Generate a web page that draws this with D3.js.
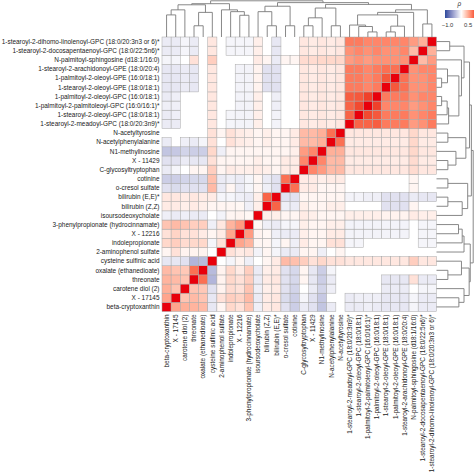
<!DOCTYPE html>
<html><head><meta charset="utf-8">
<script src="https://cdn.jsdelivr.net/npm/d3@7"></script>
<style>html,body{margin:0;padding:0;background:#fff;} svg{display:block;}</style>
</head><body>
<svg id="chart" width="474" height="474"></svg>
<script>
// Leaf order (left -> right on columns, bottom -> top on rows)
const labels = [
  "beta-cryptoxanthin", "X - 17145", "carotene diol (2)", "threonate", "oxalate (ethanedioate)",
  "cysteine sulfinic acid", "2-aminophenol sulfate", "indolepropionate", "X - 12216",
  "3-phenylpropionate (hydrocinnamate)", "isoursodeoxycholate", "bilirubin (Z,Z)", "bilirubin (E,E)*",
  "o-cresol sulfate", "cotinine", "C-glycosyltryptophan", "X - 11429", "N1-methylinosine",
  "N-acetylphenylalanine", "N-acetyltyrosine",
  "1-stearoyl-2-meadoyl-GPC (18:0/20:3n9)*", "1-stearoyl-2-oleoyl-GPC (18:0/18:1)",
  "1-palmitoyl-2-palmitoleoyl-GPC (16:0/16:1)*", "1-palmitoyl-2-oleoyl-GPC (16:0/18:1)",
  "1-stearoyl-2-oleoyl-GPE (18:0/18:1)", "1-palmitoyl-2-oleoyl-GPE (16:0/18:1)",
  "1-stearoyl-2-arachidonoyl-GPE (18:0/20:4)", "N-palmitoyl-sphingosine (d18:1/16:0)",
  "1-stearoyl-2-docosapentaenoyl-GPC (18:0/22:5n6)*", "1-stearoyl-2-dihomo-linolenoyl-GPC (18:0/20:3n3 or 6)*"
];

// Lower triangle of Spearman rho (row i, columns 0..i-1); null = blank (not shown)
const corrLower = [
  [],
  [0.45],
  [0.4, 0.3],
  [0.38, 0.35, 0.3],
  [0.35, 0.3, 0.28, 0.7],
  [-0.12, -0.12, -0.15, -0.38, -0.35],
  [0.05, 0.15, 0.06, 0.06, 0.06, null],
  [0.2, 0.25, 0.18, 0.2, 0.2, -0.05, 0.15],
  [0.15, 0.22, 0.15, 0.15, 0.1, 0.05, 0.1, 0.45],
  [0.3, 0.35, 0.3, 0.25, 0.25, -0.08, 0.12, 0.38, 0.5],
  [-0.08, -0.1, -0.08, -0.1, -0.1, null, -0.06, 0.05, 0.06, 0.04],
  [0.1, 0.1, 0.08, 0.1, 0.08, 0.05, 0.05, 0.05, 0.04, -0.08, 0.08],
  [0.12, 0.12, 0.1, 0.12, 0.1, 0.1, -0.05, -0.05, -0.08, -0.1, 0.08, 0.75],
  [-0.15, -0.18, -0.15, -0.15, -0.15, 0.35, -0.1, 0.05, -0.1, -0.05, 0.05, -0.08, -0.15],
  [-0.25, -0.25, -0.22, -0.2, -0.2, 0.32, -0.1, -0.08, -0.1, -0.05, 0.05, -0.1, -0.15, 0.7],
  [-0.1, -0.05, null, 0.05, 0.05, 0.25, 0.05, 0.1, 0.08, 0.08, 0.1, 0.08, 0.05, 0.1, 0.1],
  [-0.15, -0.15, -0.1, -0.12, -0.12, 0.15, 0.05, 0.05, 0.05, 0.05, 0.08, 0.05, 0.05, 0.1, 0.1, 0.6],
  [-0.3, -0.28, -0.22, -0.25, -0.25, 0.2, -0.08, 0.05, 0.05, 0.05, 0.05, 0.05, 0.05, 0.05, 0.08, 0.5, 0.6],
  [-0.1, null, -0.08, -0.1, -0.05, 0.15, null, 0.15, 0.1, 0.08, 0.05, 0.08, 0.05, 0.05, 0.1, 0.35, 0.35, 0.4],
  [null, null, null, null, null, 0.15, 0.05, 0.15, 0.1, 0.08, 0.05, 0.08, 0.05, 0.05, 0.1, 0.35, 0.35, 0.4, 0.7],
  [-0.1, -0.1, null, null, null, 0.12, null, -0.05, -0.06, -0.06, 0.08, null, -0.06, null, null, 0.12, 0.1, 0.12, 0.1, 0.12],
  [-0.1, -0.08, null, null, null, 0.12, null, -0.05, -0.06, -0.06, 0.08, null, -0.06, null, null, 0.12, 0.1, 0.12, 0.1, 0.12, 0.75],
  [-0.08, -0.08, null, null, null, 0.12, null, null, -0.06, -0.06, 0.08, null, -0.08, null, null, 0.12, 0.1, 0.12, 0.1, 0.12, 0.75, 0.85],
  [-0.1, -0.08, null, null, null, 0.12, null, null, -0.06, -0.06, 0.08, null, -0.08, null, null, 0.12, 0.1, 0.12, 0.1, 0.12, 0.78, 0.8, 0.88],
  [-0.12, -0.12, -0.1, -0.12, null, 0.12, null, null, -0.06, -0.06, 0.06, -0.15, -0.15, null, null, 0.12, 0.1, 0.12, 0.1, 0.12, 0.65, 0.65, 0.6, 0.65],
  [-0.12, -0.12, -0.1, -0.12, null, 0.12, null, null, -0.06, -0.06, 0.06, -0.15, -0.15, null, null, 0.12, 0.1, 0.12, 0.1, 0.12, 0.65, 0.65, 0.6, 0.65, 0.8],
  [-0.12, -0.12, -0.1, -0.12, null, 0.12, null, null, -0.06, -0.06, 0.06, -0.15, -0.15, null, null, 0.12, 0.1, 0.12, 0.1, 0.12, 0.65, 0.65, 0.6, 0.65, 0.7, 0.7],
  [-0.05, -0.05, null, 0.15, null, 0.25, null, null, null, null, 0.1, 0.05, -0.1, 0.05, 0.05, 0.18, 0.18, 0.2, 0.2, 0.2, 0.5, 0.55, 0.5, 0.55, 0.55, 0.55, 0.55],
  [-0.1, -0.1, -0.05, -0.1, null, 0.12, null, -0.05, -0.05, -0.05, 0.08, null, -0.12, null, null, 0.12, 0.1, 0.12, 0.1, 0.12, 0.55, 0.6, 0.55, 0.6, 0.55, 0.55, 0.6, 0.35],
  [-0.1, -0.1, -0.05, -0.1, null, 0.12, null, -0.05, -0.05, -0.05, 0.08, null, -0.12, null, null, 0.12, 0.1, 0.12, 0.1, 0.12, 0.65, 0.65, 0.6, 0.6, 0.6, 0.6, 0.6, 0.5, 0.4]
];

// Hierarchical clustering merges (hclust convention: -(k+1) = leaf k, m = merge m, 1-based)
const mergePairs = [
  [-1, -2], [1, -3], [-4, -5], [3, -6], [2, 4],
  [-9, -10], [-8, 6], [-7, 7], [5, 8],
  [-12, -13], [-11, 10], [-14, -15], [11, 12],
  [-16, -17], [14, -18], [-19, -20], [15, 16],
  [-23, -24], [-22, 18], [-21, 19], [-25, -26], [21, -27], [20, 22], [23, -28],
  [-29, -30], [24, 25], [17, 26], [13, 27], [9, 28]
];
const mergeHeights = [
  0.61, 0.75, 0.31, 0.68, 0.89,
  0.6, 0.7, 0.75, 0.92,
  0.31, 0.7, 0.31, 0.85,
  0.31, 0.53, 0.31, 0.8,
  0.14, 0.29, 0.33, 0.14, 0.3, 0.61, 0.68,
  0.36, 0.75, 0.9, 0.95, 1.0
];

const legendTicks = [-1.0, 0.5];
const legendTitle = "\u03c1";

const n = labels.length;
const svg = d3.select("#chart");
const font = "Arial, 'Liberation Sans', sans-serif";

const x = d3.scaleBand().domain(d3.range(n)).range([162, 436.5]);
const y = d3.scaleBand().domain(d3.range(n)).range([311.5, 37]);
const bw = x.bandwidth();
const color = d3.scaleLinear().domain([-1, 0, 1])
  .range(["#2c4a9c", "#ffffff", "#e8000b"]).interpolate(d3.interpolateLab);

function corr(i, j) {
  if (i === j) return 1;
  return i > j ? corrLower[i][j] : corrLower[j][i];
}

const cells = [];
for (let i = 0; i < n; i++) for (let j = 0; j < n; j++) {
  const v = corr(i, j);
  if (v !== null && v !== undefined) cells.push({ i, j, v });
}

svg.append("g").selectAll("rect").data(cells).join("rect")
  .attr("x", d => x(d.j)).attr("y", d => y(d.i))
  .attr("width", bw).attr("height", y.bandwidth())
  .attr("fill", d => color(d.v))
  .attr("stroke", "#a8a8a8").attr("stroke-width", 0.5);

// Row labels
svg.append("g").selectAll("text").data(labels).join("text")
  .attr("x", 159.5).attr("y", (d, i) => y(i) + y.bandwidth() / 2)
  .attr("dy", "0.35em").attr("text-anchor", "end")
  .attr("font-family", font).attr("font-size", 6.45).attr("fill", "#222")
  .text(d => d);

// Column labels
svg.append("g").selectAll("text").data(labels).join("text")
  .attr("transform", (d, i) => `translate(${x(i) + bw / 2},314.5) rotate(-90)`)
  .attr("dy", "0.35em").attr("text-anchor", "end")
  .attr("font-family", font).attr("font-size", 6.45).attr("fill", "#222")
  .text(d => d);

// Dendrograms
const hTop = d3.scaleLinear().domain([0, 1]).range([37, 0.8]);
const hRight = d3.scaleLinear().domain([0, 1]).range([436.5, 473.2]);
const nodePos = [], nodeH = [];
function ref(k) { return k < 0 ? { p: -k - 1, leaf: true } : { p: k - 1, leaf: false }; }
function posOf(k) { const r = ref(k); return r.leaf ? r.p : nodePos[r.p]; }
function hOf(k) { const r = ref(k); return r.leaf ? 0 : nodeH[r.p]; }
mergePairs.forEach((pr, m) => {
  nodePos[m] = (posOf(pr[0]) + posOf(pr[1])) / 2;
  nodeH[m] = mergeHeights[m];
});
const leafCenter = p => x(0) + (p + 0.5) * bw;
const leafCenterY = p => y(0) + y.bandwidth() - (p + 0.5) * y.bandwidth();

const topPaths = mergePairs.map((pr, m) => {
  const a = pr[0], b = pr[1];
  const p = d3.path();
  p.moveTo(leafCenter(posOf(a)), hTop(hOf(a)));
  p.lineTo(leafCenter(posOf(a)), hTop(nodeH[m]));
  p.lineTo(leafCenter(posOf(b)), hTop(nodeH[m]));
  p.lineTo(leafCenter(posOf(b)), hTop(hOf(b)));
  return p.toString();
});
const rightPaths = mergePairs.map((pr, m) => {
  const a = pr[0], b = pr[1];
  const p = d3.path();
  p.moveTo(hRight(hOf(a)), leafCenterY(posOf(a)));
  p.lineTo(hRight(nodeH[m]), leafCenterY(posOf(a)));
  p.lineTo(hRight(nodeH[m]), leafCenterY(posOf(b)));
  p.lineTo(hRight(hOf(b)), leafCenterY(posOf(b)));
  return p.toString();
});
svg.append("g").selectAll("path").data(topPaths.concat(rightPaths)).join("path")
  .attr("d", d => d).attr("fill", "none").attr("stroke", "#7a7a7a").attr("stroke-width", 0.9);

// Legend
const lg = svg.append("defs").append("linearGradient").attr("id", "lgrad");
d3.range(0, 1.0001, 0.1).forEach(t => {
  lg.append("stop").attr("offset", t).attr("stop-color", color(-1 + 2 * t));
});
const lx = d3.scaleLinear().domain([-1, 1]).range([447.5, 475]);
svg.append("rect").attr("x", lx(-1) - 2.5).attr("y", 10).attr("width", lx(1) - lx(-1) + 5).attr("height", 8)
  .attr("fill", "url(#lgrad)");
svg.append("text").attr("x", lx(0) - 2).attr("y", 6).attr("text-anchor", "middle")
  .attr("font-family", font).attr("font-style", "italic").attr("font-size", 6.5).attr("fill", "#333").text(legendTitle);
svg.append("g").selectAll("text").data(legendTicks).join("text")
  .attr("x", d => lx(d)).attr("y", 27).attr("text-anchor", "middle")
  .attr("font-family", font).attr("font-size", 5.8).attr("fill", "#333")
  .text(d => d3.format(".1f")(d));
</script>
</body></html>
